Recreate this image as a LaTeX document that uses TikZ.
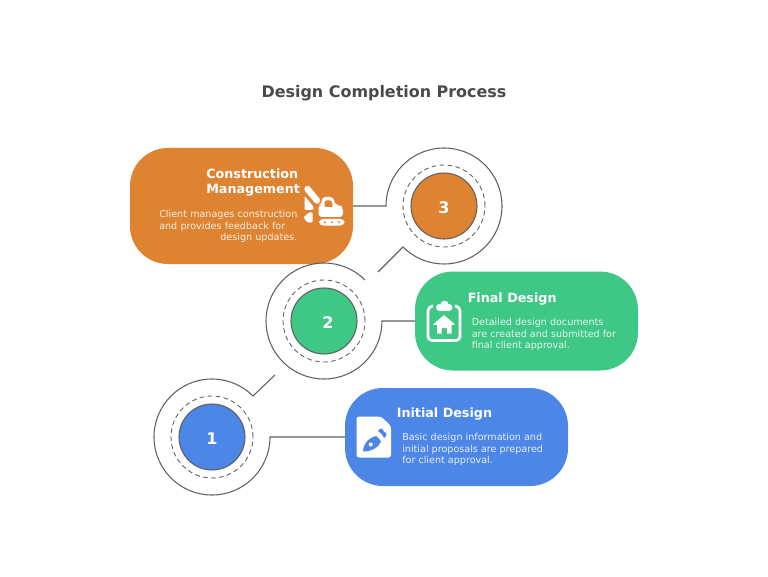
\documentclass[tikz,border=0pt]{standalone}
\usepackage{fontspec}
\setmainfont{DejaVu Sans}
\definecolor{cOrange}{HTML}{DE8331}
\definecolor{cGreen}{HTML}{3EC785}
\definecolor{cBlue}{HTML}{4C87E8}
\definecolor{cLine}{HTML}{606060}
\definecolor{cTitle}{HTML}{4A4A4A}
\definecolor{cOrangeText}{HTML}{FBEFE3}
\definecolor{cGreenText}{HTML}{E6F8EF}
\definecolor{cBlueText}{HTML}{E6EEFC}
\tikzset{
  card/.style={rectangle,rounded corners=28.5pt,minimum width=167.25pt,inner sep=0pt,outer sep=0pt},
  disc/.style={circle,draw=cLine,line width=0.8pt,minimum size=49.5pt,inner sep=0pt,outer sep=0pt},
  numlabel/.style={text=white,inner sep=0pt,font=\bfseries\fontsize{12}{14}\selectfont},
  dashring/.style={circle,draw=cLine,line width=0.65pt,dash pattern=on 3.6pt off 2.4pt,minimum size=61.5pt,inner sep=0pt,outer sep=0pt},
  outerring/.style={circle,minimum size=87pt,inner sep=0pt,outer sep=0pt},
  wire/.style={draw=cLine,line width=0.8pt},
  cardtitle/.style={text=white,anchor=west,align=left,inner sep=0pt,font=\bfseries\fontsize{9.55}{11}\selectfont},
  cardbody/.style={anchor=west,align=left,inner sep=0pt,font=\fontsize{7.2}{8.7}\selectfont},
  icon/.style={fill=white,draw=none}
}
\begin{document}
\begin{tikzpicture}[x=0.75pt,y=0.75pt]
\useasboundingbox (0,0) rectangle (768,576);
\node[text=cTitle,font=\bfseries\fontsize{11.95}{14}\selectfont,inner sep=0pt] (title) at (384,482.5) {Design Completion Process};

% cards
\node[card,fill=cOrange,minimum height=87pt] (card3) at (241.5,370) {};
\node[card,fill=cGreen,minimum height=74.25pt] (card2) at (526.5,255) {};
\node[card,fill=cBlue,minimum height=73.5pt] (card1) at (456.5,139) {};

% rings
\node[disc,fill=cOrange] (disc3) at (444,370) {};
\node[numlabel] (num3) at (444,368.5) {3};
\node[dashring] (dash3) at (444,370) {};
\node[outerring] (ring3) at (444,370) {};
\node[disc,fill=cGreen] (disc2) at (324,255) {};
\node[numlabel] (num2) at (328,253) {2};
\node[dashring] (dash2) at (324,255) {};
\node[outerring] (ring2) at (324,255) {};
\node[disc,fill=cBlue] (disc1) at (212,139) {};
\node[numlabel] (num1) at (212,137.5) {1};
\node[dashring] (dash1) at (212,139) {};
\node[outerring] (ring1) at (212,139) {};

\coordinate (end3) at (378,304);
\coordinate (end1) at (275,201);

% connectors
\draw[wire] (card3.east) -- (ring3.west) arc[start angle=180,end angle=-135,radius=43.5pt] -- (end3);
\draw[wire] (card2.west) -- (ring2.east) arc[start angle=0,end angle=-315,radius=43.5pt];
\draw[wire] (card1.west) -- (ring1.east) arc[start angle=0,end angle=-315,radius=43.5pt] -- (end1);

% texts
\node[cardtitle] (t3) at (206,393.5) {Construction\\[0.4pt]Management};
\node[cardbody,text=cOrangeText,text width=105pt] (b3) at (159,349.5) {Client manages construction\\and provides feedback for\\\makebox[103.5pt][r]{design updates.}};
\node[cardtitle] (t2) at (467.5,276.5) {Final Design};
\node[cardbody,text=cGreenText] (b2) at (471.5,241.5) {Detailed design documents\\are created and submitted for\\final client approval.};
\node[cardtitle] (t1) at (396.5,161.5) {Initial Design};
\node[cardbody,text=cBlueText] (b1) at (402,126.5) {Basic design information and\\initial proposals are prepared\\for client approval.};

% icons, in reference pixel coordinates
\begin{scope}[yshift=432pt,yscale=-1]
  % excavator
  \draw[white,line width=4.8pt,line cap=round] (307.5,189) -- (317,200.5);
  \fill[icon,rounded corners=1pt] (304.5,196) -- (313.5,206.5) -- (313.5,210) -- (304.5,210) -- cycle;
  \fill[icon,rounded corners=0.6pt] (304,217) -- (309,212.5) -- (312.5,212.5) -- (312.5,222.5) -- (309,222.5) .. controls (306,222) and (305,220) .. (304,217) -- cycle;
  \fill[icon,rounded corners=2.5pt] (318.5,217) -- (318.5,205) -- (321.5,205) -- (322,197) -- (333.5,197) -- (335,205) -- (340,205) -- (343,208) -- (343,217) -- cycle;
  \fill[cOrange,rounded corners=1pt] (324.5,207) -- (324.5,200.5) -- (331.5,200.5) -- (333,207) -- cycle;
  \fill[icon,rounded corners=3pt] (319,219) rectangle (344.5,225.5);
  \foreach \p in {325,332,339} \fill[cOrange] (\p,222.2) circle[radius=1.1];
  % clipboard
  \draw[white,line width=2.1pt,line join=round,rounded corners=3pt] (433,306) -- (428,307) -- (428,340.5) -- (460,340.5) -- (460,307) -- (455,306);
  \fill[icon] (439.5,307.5) circle[radius=3.5];
  \fill[icon] (444.5,305) circle[radius=4.3];
  \fill[icon] (449,307.5) circle[radius=3.5];
  \fill[icon] (439.5,306) rectangle (449,311);
  % house
  \fill[icon] (433,324.5) -- (444,315) -- (455,324.5) -- (451.5,325) -- (451.5,333.5) -- (447,333.5) -- (447,328) -- (441.5,328) -- (441.5,333.5) -- (437,333.5) -- (437,325) -- cycle;
  % document with rocket
  \fill[icon,rounded corners=2pt] (356.5,457.5) -- (356.5,416.5) -- (381,416.5) -- (391,426) -- (391,457.5) -- cycle;
  \fill[cBlue] (363,451.5) .. controls (363,446) and (366.5,440) .. (372,437.5) -- (376,436) .. controls (378,437.5) and (380,439.5) .. (381,441.5) .. controls (379,447) and (371,452) .. (363,451.5) -- cycle;
  \fill[white] (370.8,444.5) circle[radius=2];
  \fill[cBlue] (378,431) .. controls (380.5,432.5) and (383,435) .. (384,438) .. controls (386,437) and (387,435) .. (386.5,433.5) .. controls (384.5,432.5) and (383,431) .. (382,428.5) .. controls (380,428.5) and (379,429.5) .. (378,431) -- cycle;
\end{scope}
\end{tikzpicture}
\end{document}
